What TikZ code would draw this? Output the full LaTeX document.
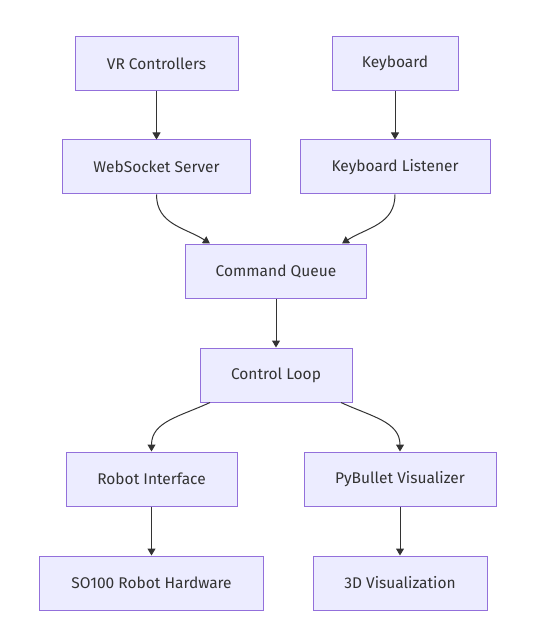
\documentclass[tikz,border=0pt]{standalone}
\usepackage{fontspec}
\setmainfont{Fira Sans}
\usetikzlibrary{arrows.meta,calc}
\definecolor{boxfill}{HTML}{ECECFF}
\definecolor{boxline}{HTML}{9370DB}
\definecolor{edge}{HTML}{333333}
\definecolor{txt}{HTML}{333333}
\begin{document}
\begin{tikzpicture}[x=1pt,y=-1pt,
  box/.style={draw=boxline,fill=boxfill,line width=1pt,minimum height=54pt,inner sep=0pt,
    text=txt,font=\fontsize{15.5pt}{18pt}\selectfont},
  link/.style={draw=edge,line width=1pt,-{Triangle[length=7pt,width=8pt]}}]
\useasboundingbox (0,0) rectangle (540,620);
\node[box,minimum width=163pt] (vr) at (156.5,63.5) {VR Controllers};
\node[box,minimum width=126pt] (kb) at (395,63.5) {Keyboard};
\node[box,minimum width=188pt] (ws) at (156.5,167) {WebSocket Server};
\node[box,minimum width=190pt] (kl) at (395,167) {Keyboard Listener};
\node[box,minimum width=181pt] (cq) at (276,271) {Command Queue};
\node[box,minimum width=152pt] (cl) at (276,375) {Control Loop};
\node[box,minimum width=171pt] (ri) at (151.5,479) {Robot Interface};
\node[box,minimum width=192pt] (pb) at (400,479) {PyBullet Visualizer};
\node[box,minimum width=224pt] (so) at (151.5,583) {SO100 Robot Hardware};
\node[box,minimum width=174pt] (vz) at (400,583) {3D Visualization};
\coordinate (cqL) at ($(cq.north)+(-66,0)$);
\coordinate (cqR) at ($(cq.north)+(66,0)$);
\coordinate (clL) at ($(cl.south)+(-66,0)$);
\coordinate (clR) at ($(cl.south)+(65,0)$);
\draw[link] (vr.south) -- (ws.north);
\draw[link] (kb.south) -- (kl.north);
\draw[link] (ws.south) .. controls ($(ws.south)+(0,30)$) and ($(cqL)+(-25,-16)$) .. (cqL);
\draw[link] (kl.south) .. controls ($(kl.south)+(0,30)$) and ($(cqR)+(25,-16)$) .. (cqR);
\draw[link] (cq.south) -- (cl.north);
\draw[link] (clL) .. controls ($(clL)+(-30,14)$) and ($(ri.north)+(0,-30)$) .. (ri.north);
\draw[link] (clR) .. controls ($(clR)+(30,14)$) and ($(pb.north)+(0,-30)$) .. (pb.north);
\draw[link] (ri.south) -- (so.north);
\draw[link] (pb.south) -- (vz.north);
\end{tikzpicture}
\end{document}
